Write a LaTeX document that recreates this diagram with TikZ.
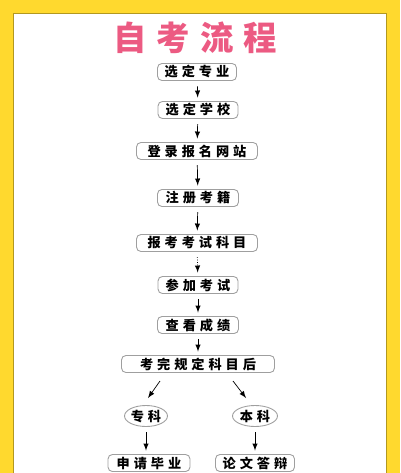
\documentclass[tikz,border=0pt]{standalone}
\usepackage{fontspec}
\newfontfamily\cjk{Noto Sans CJK SC}
\definecolor{frame}{HTML}{FFD92E}
\definecolor{titlepink}{HTML}{EC5A82}
\newcommand{\sep}{\hspace{0.3em}}
\tikzset{
  stage/.style={draw=gray!75,rounded corners=2.5pt,line width=0.5pt,
    minimum height=0.34cm,inner sep=0pt,font=\cjk\bfseries\fontsize{7.5pt}{8pt}\selectfont},
  branch/.style={draw=gray!75,ellipse,line width=0.5pt,minimum height=0.42cm,
    inner sep=0pt,font=\cjk\bfseries\fontsize{7.5pt}{8pt}\selectfont}
}
\usetikzlibrary{shapes.geometric}
\begin{document}
\begin{tikzpicture}[>=latex,x=0.02cm,y=-0.02cm]
      \useasboundingbox (0,0) rectangle (400,473);
      \fill[frame] (0,0) rectangle (400,473);
      \filldraw[fill=white,draw=frame!70!black,line width=0.4pt] (13,13) rectangle (386,474);

      \node[text=titlepink,font=\cjk\bfseries\fontsize{19pt}{20pt}\selectfont] (title) at (195,38) {自\sep 考\sep 流\sep 程};

      \node[stage,minimum width=1.58cm] (major) at (197,72) {选\sep 定\sep 专\sep 业};
      \node[stage,minimum width=1.6cm] (school) at (198,110) {选\sep 定\sep 学\sep 校};
      \node[stage,minimum width=2.42cm] (site) at (197,151) {登\sep 录\sep 报\sep 名\sep 网\sep 站};
      \node[stage,minimum width=1.62cm] (record) at (198,198) {注\sep 册\sep 考\sep 籍};
      \node[stage,minimum width=2.42cm] (subject) at (197,243) {报\sep 考\sep 考\sep 试\sep 科\sep 目};
      \node[stage,minimum width=1.6cm] (exam) at (198,285) {参\sep 加\sep 考\sep 试};
      \node[stage,minimum width=1.62cm] (score) at (198,325) {查\sep 看\sep 成\sep 绩};
      \node[stage,minimum width=3.06cm] (done) at (198,364) {考\sep 完\sep 规\sep 定\sep 科\sep 目\sep 后};

      \node[branch,minimum width=0.86cm] (junior) at (146,416) {专\sep 科};
      \node[branch,minimum width=0.9cm] (bachelor) at (255,416) {本\sep 科};
      \node[stage,minimum width=1.64cm] (graduate) at (149,463) {申\sep 请\sep 毕\sep 业};
      \node[stage,minimum width=1.58cm] (thesis) at (255,463) {论\sep 文\sep 答\sep 辩};

      % free ends of the two slanted arrows
      \coordinate (leftfrom) at (160,381);
      \coordinate (leftto) at (148,398);
      \coordinate (rightfrom) at (233,381);
      \coordinate (rightto) at (246,398);

      \draw[->,shorten <=3pt,shorten >=2pt] (major) -- (school);
      \draw[->,shorten <=3pt,shorten >=2pt] (school) -- (site);
      \draw[->,shorten <=3pt,shorten >=2pt] (site) -- (record);
      \draw[->,shorten <=3pt,shorten >=2pt] (record) -- (subject);
      \draw[->,densely dotted,shorten <=3pt,shorten >=2pt] (subject) -- (exam);
      \draw[->,shorten <=3pt,shorten >=2pt] (exam) -- (score);
      \draw[->,shorten <=3pt,shorten >=2pt] (score) -- (done);
      \draw[->] (leftfrom) -- (leftto);
      \draw[->] (rightfrom) -- (rightto);
      \draw[->,shorten <=3pt,shorten >=2pt] (junior) -- (junior|-graduate.north);
      \draw[->,shorten <=3pt,shorten >=2pt] (bachelor) -- (thesis);
    \end{tikzpicture}
\end{document}
